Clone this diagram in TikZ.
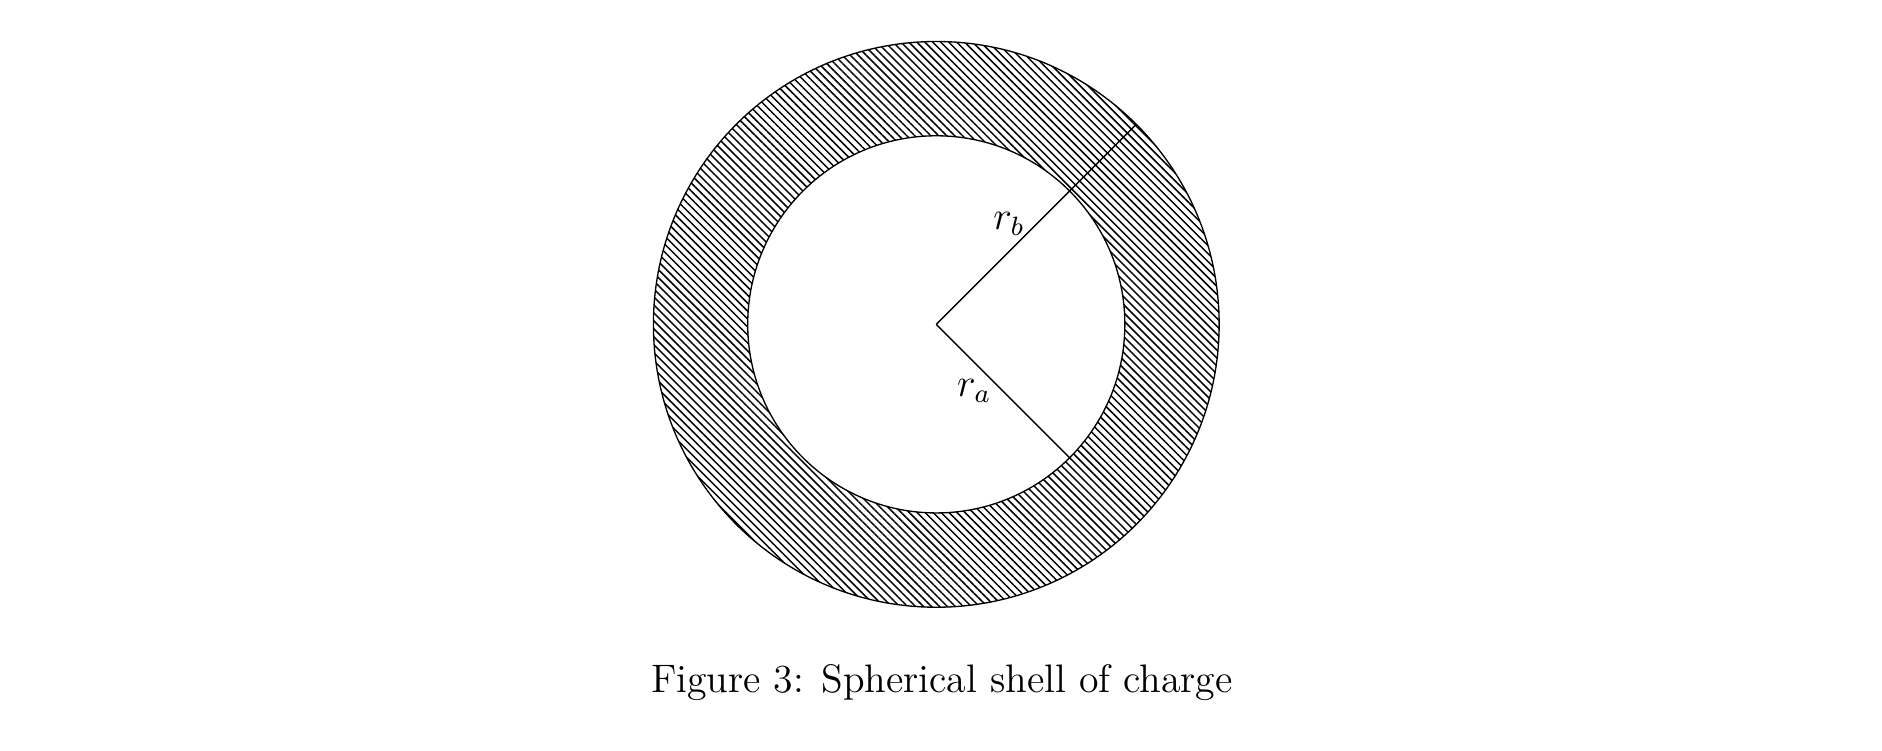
\documentclass[tikz,border=0pt]{standalone}
\usetikzlibrary{patterns.meta}
\begin{document}
\begin{tikzpicture}
\useasboundingbox (-9.93,-4.52) rectangle (10.03,3.44);

% --- Shell between r_a and r_b ---
\coordinate (centre) at (0,0);
\fill[pattern={Lines[angle=-45, distance=1.7pt, line width=0.45pt]}, even odd rule] (centre) circle (3) (centre) circle (2);
\draw (centre) circle (3);
\draw (centre) circle (2);

% --- Radii ---
\coordinate (outer_end) at (45:3);
\coordinate (inner_end) at (-45:2);
\draw (centre) -- (outer_end) node (rb_label) [midway, left] {\large $r_b$};
\draw (centre) -- (inner_end) node (ra_label) [midway, left] {\large $r_a$};

% --- Caption ---
\node (caption) at (0.06,-3.80) {\large Figure 3: Spherical shell of charge};

\end{tikzpicture}
\end{document}
